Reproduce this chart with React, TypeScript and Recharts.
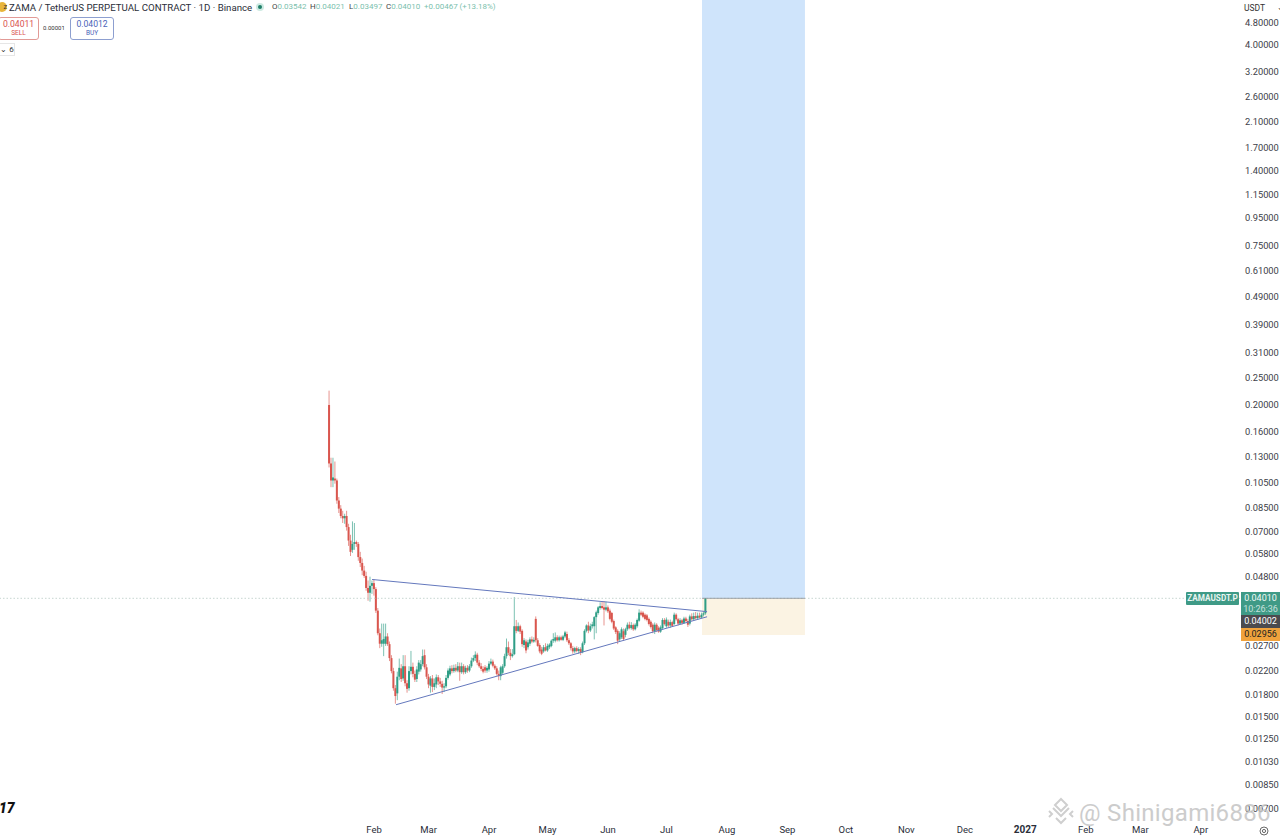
import React from "react";
import { ComposedChart, Bar, XAxis, YAxis, ReferenceArea, ReferenceLine } from "recharts";

const FONT = "Roboto, 'Liberation Sans', sans-serif";

const firstDay = -23; // days relative to 1 Feb 2026
const opens = [
  .2000,.1230,.1068,.1085,.1068,.0904,.0845,.0795,.0780,.0795,.0725,.0648,.0600,.0630,.0640,.0630,.0565,.0538,.0505,.0483,.0437,.0420,.0445,
  .0455,.0433,.0362,.0300,.0275,.0275,.0275,.0292,.0274,.0244,.0219,.0190,.0182,.0209,.0224,.0206,.0228,.0198,.0190,.0219,.0227,.0214,.0205,.0218,
  .0222,.0232,.0250,.0226,.0209,.0194,.0206,.0192,.0196,.0208,.0201,.0197,.0191,.0193,.0207,.0213,.0224,.0219,.0225,.0220,.0228,.0217,.0228,.0217,.0225,.0220,
  .0228,.0239,.0244,.0251,.0235,.0228,.0223,.0226,.0220,.0222,.0233,.0237,.0229,.0224,.0214,.0210,.0216,.0228,.0248,.0267,.0255,.0248,.0252,.0318,.0306,.0318,.0306,
  .0272,.0280,.0267,.0275,.0285,.0280,.0338,.0283,.0272,.0262,.0258,.0267,.0260,.0267,.0270,.0282,.0282,.0290,.0283,.0290,
  .0284,.0292,.0298,.0283,.0276,.0265,.0258,.0265,.0259,.0263,.0256,.0276,.0306,.0320,.0307,.0318,.0318,.0343,.0355,.0370,.0376,.0372,.0365,.0372,.0362,.0355,.0332,.0315,.0306,
  .0285,.0290,.0305,.0296,.0310,.0322,.0313,.0321,.0310,.0318,.0333,.0356,.0356,.0350,.0348,.0338,.0330,.0322,.0305,.0322,.0314,.0304,.0313,.0335,.0318,.0330,.0320,.0329,.0324,
  .0350,.0337,.0325,.0334,.0327,.0339,.0332,.0325,.0345,.0337,.0346,.0340,.0347,.0342,.0350,.03542,
];
const highs = [
  .2253,.1290,.1290,.1250,.1085,.0930,.0870,.0830,.0810,.0830,.0745,.0680,.0760,.0750,.0648,.0640,.0590,.0558,.0525,.0500,.0465,.0480,.0465,
  .0470,.0440,.0370,.0312,.0325,.0325,.0325,.0300,.0280,.0250,.0225,.0195,.0218,.0243,.0232,.0250,.0250,.0203,.0228,.0259,.0235,.0220,.0228,.0240,
  .0240,.0262,.0262,.0232,.0214,.0210,.0212,.0206,.0213,.0212,.0207,.0202,.0198,.0212,.0224,.0229,.0230,.0231,.0232,.0236,.0235,.0235,.0232,.0229,.0230,.0232,
  .0245,.0250,.0258,.0255,.0240,.0234,.0228,.0230,.0228,.0238,.0243,.0241,.0232,.0228,.0220,.0229,.0232,.0253,.0287,.0280,.0263,.0263,.0405,.0335,.0328,.0322,.0310,
  .0288,.0285,.0284,.0290,.0292,.0290,.0345,.0288,.0276,.0268,.0272,.0276,.0275,.0276,.0285,.0300,.0302,.0295,.0294,.0294,
  .0296,.0306,.0304,.0288,.0279,.0270,.0268,.0269,.0267,.0267,.0280,.0310,.0323,.0330,.0325,.0330,.0346,.0362,.0376,.0388,.0392,.0392,.0390,.0378,.0368,.0358,.0336,.0318,.0310,
  .0305,.0315,.0312,.0314,.0328,.0330,.0329,.0325,.0326,.0339,.0366,.0362,.0360,.0354,.0352,.0342,.0334,.0326,.0328,.0326,.0318,.0320,.0340,.0340,.0342,.0336,.0336,.0333,.0356,
  .0354,.0341,.0340,.0338,.0344,.0344,.0338,.0350,.0354,.0356,.0358,.0356,.0356,.0356,.0360,.04021,
];
const lows = [
  .1190,.1010,.1010,.1040,.0880,.0815,.0780,.0750,.0745,.0704,.0620,.0570,.0585,.0600,.0615,.0548,.0520,.0486,.0475,.0427,.0393,.0390,.0416,
  .0410,.0355,.0295,.0265,.0268,.0248,.0270,.0270,.0238,.0215,.0186,.0167,.0172,.0203,.0200,.0202,.0193,.0183,.0186,.0213,.0208,.0200,.0200,.0213,
  .0218,.0228,.0222,.0205,.0190,.0183,.0184,.0187,.0190,.0195,.0192,.0181,.0184,.0190,.0204,.0210,.0215,.0216,.0217,.0217,.0202,.0214,.0213,.0214,.0216,.0217,
  .0225,.0236,.0238,.0230,.0225,.0219,.0215,.0216,.0216,.0218,.0230,.0226,.0221,.0211,.0203,.0203,.0213,.0225,.0243,.0250,.0240,.0245,.0250,.0300,.0303,.0298,.0268,
  .0265,.0254,.0262,.0270,.0276,.0277,.0278,.0268,.0254,.0250,.0255,.0258,.0257,.0263,.0267,.0277,.0278,.0280,.0280,.0282,
  .0281,.0288,.0279,.0272,.0260,.0253,.0254,.0256,.0253,.0250,.0254,.0272,.0302,.0300,.0303,.0312,.0285,.0300,.0350,.0365,.0366,.0320,.0360,.0355,.0334,.0326,.0308,.0298,.0274,
  .0280,.0286,.0282,.0290,.0306,.0310,.0309,.0306,.0307,.0314,.0330,.0346,.0340,.0334,.0331,.0320,.0312,.0300,.0298,.0303,.0301,.0301,.0309,.0320,.0314,.0316,.0314,.0316,.0321,
  .0333,.0320,.0322,.0322,.0324,.0328,.0316,.0320,.0333,.0334,.0336,.0337,.0340,.0340,.0345,.03497,
];
const closes = [
  .1230,.1068,.1095,.1068,.0904,.0845,.0795,.0780,.0795,.0725,.0648,.0590,.0630,.0640,.0630,.0565,.0538,.0505,.0483,.0437,.0420,.0445,.0455,
  .0433,.0362,.0300,.0275,.0283,.0286,.0292,.0274,.0244,.0219,.0190,.0178,.0209,.0225,.0205,.0228,.0198,.0189,.0219,.0227,.0214,.0204,.0222,.0235,
  .0232,.0248,.0226,.0209,.0196,.0206,.0192,.0198,.0208,.0201,.0197,.0191,.0193,.0207,.0220,.0224,.0219,.0225,.0220,.0228,.0217,.0228,.0217,.0225,.0220,.0228,
  .0239,.0244,.0251,.0235,.0228,.0223,.0218,.0220,.0225,.0233,.0237,.0229,.0224,.0214,.0210,.0226,.0228,.0248,.0267,.0255,.0248,.0252,.0318,.0306,.0318,.0304,.0274,
  .0283,.0260,.0278,.0285,.0280,.0284,.0283,.0270,.0258,.0253,.0267,.0260,.0270,.0273,.0282,.0286,.0290,.0283,.0290,.0284,
  .0292,.0302,.0283,.0276,.0265,.0258,.0265,.0259,.0263,.0255,.0276,.0306,.0320,.0307,.0318,.0323,.0343,.0357,.0372,.0376,.0370,.0365,.0372,.0360,.0338,.0330,.0312,.0303,.0282,
  .0300,.0310,.0286,.0310,.0322,.0313,.0321,.0310,.0322,.0335,.0356,.0350,.0344,.0338,.0335,.0324,.0316,.0305,.0322,.0308,.0304,.0315,.0335,.0324,.0336,.0320,.0329,.0319,.0350,
  .0337,.0325,.0334,.0327,.0339,.0332,.0322,.0345,.0337,.0346,.0340,.0347,.0342,.0350,.0354,.04010,
];

const monthTicks = [0, 28, 59, 89, 120, 150, 181, 212, 242, 273, 303, 334, 365, 393, 424];
const monthLabels = ["Feb","Mar","Apr","May","Jun","Jul","Aug","Sep","Oct","Nov","Dec","2027","Feb","Mar","Apr"];
const priceTicks = [4.8,4,3.2,2.6,2.1,1.7,1.4,1.15,0.95,0.75,0.61,0.49,0.39,0.31,0.25,0.2,0.16,0.13,0.105,0.085,0.07,0.058,0.048,0.027,0.022,0.018,0.015,0.0125,0.0103,0.0085,0.007];
const priceDomain = [0.006196, 5.793];
const dayDomain = [-191.8, 444.1];

const lastPrice = 0.0401;
const stopPrice = 0.02956;
const positionDays = [168.2, 221];
const upperTrend = [{ x: -1, y: 0.0469 }, { x: 170.8, y: 0.0359 }];
const lowerTrend = [{ x: 11.3, y: 0.01656 }, { x: 170.8, y: 0.0344 }];

const candles = opens.map((open, i) => ({
  day: firstDay + i,
  open,
  high: highs[i],
  low: lows[i],
  close: closes[i],
  range: [lows[i], highs[i]],
}));

const UP = "#2f9e86";
const DOWN = "#d9564e";

function Candle(props: any) {
  const { x, y, width, height, payload } = props;
  const { open, close, high, low } = payload;
  const up = close >= open;
  const color = up ? UP : DOWN;
  const span = Math.log(high / low);
  const py = (v: number) => y + (height * Math.log(high / v)) / span;
  const top = py(Math.max(open, close));
  const bottom = py(Math.min(open, close));
  const cx = x + width / 2;
  return (
    <g>
      <line x1={cx} x2={cx} y1={y} y2={y + height} stroke={color} strokeWidth={0.8} strokeOpacity={0.8} />
      <rect x={cx - 1} y={top} width={2} height={Math.max(bottom - top, 1)} fill={color} />
    </g>
  );
}

function MonthTick(props: any) {
  const { x, y, payload } = props;
  const label = monthLabels[monthTicks.indexOf(payload.value)];
  const isYear = label === "2027";
  return (
    <text x={x} y={y} textAnchor="middle" dominantBaseline="central" fontFamily={FONT} fontSize={isYear ? 10 : 9.5} fontWeight={isYear ? 700 : 400} fill="#2a2e39">
      {label}
    </text>
  );
}

const abs = (left: number, top: number, extra: React.CSSProperties = {}): React.CSSProperties => ({
  position: "absolute",
  left,
  top,
  fontFamily: FONT,
  whiteSpace: "nowrap",
  lineHeight: 1,
  ...extra,
});

const G = "#7cbfae";
function Ohlc({ k, v, left }: { k: string; v: string; left: number }) {
  return (
    <span style={abs(left, 3, { fontSize: 8, color: G })}>
      <span style={{ color: "#444" }}>{k}</span>
      {v}
    </span>
  );
}

function Tag({ top, h, bg, color, children }: any) {
  return (
    <div style={abs(1241, top, { width: 39, height: h, background: bg, color, fontSize: 9, textAlign: "center", lineHeight: `${h}px`, overflow: "hidden" })}>
      {children}
    </div>
  );
}

export default function App() {
  return (
    <div style={{ position: "absolute", left: 0, top: 0, width: 1280, height: 837, overflow: "hidden", background: "#fff" }}>
      <ComposedChart width={1280} height={837} data={candles} margin={{ top: 0, right: 0, bottom: 0, left: 0 }}>
        <XAxis
          dataKey="day"
          type="number"
          domain={dayDomain}
          allowDataOverflow
          ticks={monthTicks}
          interval={0}
          height={14}
          axisLine={false}
          tickLine={false}
          tickMargin={0}
          tick={<MonthTick />}
        />
        <YAxis
          orientation="right"
          scale="log"
          type="number"
          domain={priceDomain}
          allowDataOverflow
          ticks={priceTicks}
          interval={0}
          width={40}
          axisLine={false}
          tickLine={false}
          tickSize={0}
          tickMargin={5}
          tick={{ fontSize: 9.3, fill: "#3c4048", fontFamily: FONT }}
          tickFormatter={(v: number) => v.toFixed(5)}
        />
        <ReferenceArea x1={positionDays[0]} x2={positionDays[1]} y1={lastPrice} y2={priceDomain[1]} fill="#cfe4fb" fillOpacity={1} stroke="none" ifOverflow="hidden" />
        <ReferenceArea x1={positionDays[0]} x2={positionDays[1]} y1={stopPrice} y2={lastPrice} fill="#fbf3e3" fillOpacity={1} stroke="none" ifOverflow="hidden" />
        <ReferenceLine y={lastPrice} stroke="#b9cbc6" strokeWidth={0.8} strokeDasharray="1.5 2" />
        <ReferenceLine segment={[{ x: positionDays[0], y: lastPrice }, { x: positionDays[1], y: lastPrice }]} stroke="#8a8f98" strokeWidth={0.8} />
        <ReferenceLine segment={upperTrend} stroke="#6478bd" strokeWidth={1} />
        <ReferenceLine segment={lowerTrend} stroke="#6478bd" strokeWidth={1} />
        <Bar dataKey="range" barSize={2} isAnimationActive={false} shape={<Candle />} />
      </ComposedChart>

      {/* legend header */}
      <div style={abs(-3, 2, { width: 10, height: 10, borderRadius: 5, background: "#e8b53a", fontSize: 6, color: "#333", textAlign: "right", lineHeight: "10px" })}>Z</div>
      <div style={abs(9, 2.5, { fontSize: 9.7, color: "#2a2e39" })}>ZAMA / TetherUS PERPETUAL CONTRACT · 1D · Binance</div>
      <div style={abs(256, 3, { width: 8, height: 8, borderRadius: 4, background: "#cdeae2" })} />
      <div style={abs(258, 5, { width: 4, height: 4, borderRadius: 2, background: "#1f7f68" })} />
      <Ohlc k="O" v="0.03542" left={272} />
      <Ohlc k="H" v="0.04021" left={310} />
      <Ohlc k="L" v="0.03497" left={349} />
      <Ohlc k="C" v="0.04010" left={386} />
      <span style={abs(424, 3, { fontSize: 8, color: G })}>+0.00467 (+13.18%)</span>

      <div style={abs(-2, 17, { width: 39, height: 20, border: "1px solid #e29a96", borderRadius: 3, textAlign: "center", color: "#d9534f", fontSize: 8.6, lineHeight: "10px", paddingTop: 1, background: "#fff" })}>
        0.04011
        <div style={{ fontSize: 6.5, lineHeight: "8px" }}>SELL</div>
      </div>
      <div style={abs(43, 25, { fontSize: 6, color: "#333" })}>0.00001</div>
      <div style={abs(70, 17, { width: 42, height: 20, border: "1px solid #8d9fd0", borderRadius: 3, textAlign: "center", color: "#4a63b8", fontSize: 8.6, lineHeight: "10px", paddingTop: 1, background: "#fff" })}>
        0.04012
        <div style={{ fontSize: 6.5, lineHeight: "8px" }}>BUY</div>
      </div>
      <div style={abs(-1, 43, { width: 14, height: 11, border: "1px solid #e6e6e6", fontSize: 8, color: "#333", textAlign: "center", lineHeight: "11px" })}>⌄ 6</div>

      {/* top right unit */}
      <div style={abs(1244, 4, { fontSize: 8.5, color: "#333" })}>USDT</div>
      <div style={abs(1277, 4, { fontSize: 8, color: "#333" })}>⌄</div>

      {/* price tags */}
      <div style={abs(1186, 592, { width: 53, height: 13, background: "#3f9a86", color: "#eaf5f2", fontSize: 8.2, fontWeight: 700, textAlign: "center", lineHeight: "13px", borderRadius: 1 })}>ZAMAUSDT.P</div>
      <Tag top={592} h={23} bg="#3f9a86" color="#f2faf8">
        <div style={{ lineHeight: "12px" }}>0.04010</div>
        <div style={{ lineHeight: "10px", opacity: 0.75 }}>10:26:36</div>
      </Tag>
      <Tag top={615} h={13} bg="#4b4b4f" color="#fff">0.04002</Tag>
      <Tag top={628} h={13} bg="#f0a23c" color="#222">0.02956</Tag>

      {/* cut-off logo */}
      <div style={abs(-1, 801, { fontSize: 14, fontWeight: 900, fontStyle: "italic", color: "#111" })}>17</div>

      {/* settings icon */}
      <svg style={{ position: "absolute", left: 1259, top: 826 }} width={10} height={10}>
        <circle cx={5} cy={5} r={4} fill="none" stroke="#444" strokeWidth={0.8} />
        <circle cx={5} cy={5} r={1.6} fill="none" stroke="#444" strokeWidth={0.8} />
      </svg>

      {/* watermark */}
      <svg style={{ position: "absolute", left: 1046, top: 796 }} width={30} height={30}>
        <g fill="none" stroke="#cfcfcf" strokeWidth={2}>
          <path d="M15 3 L21 9 L15 15 L9 9 Z" />
          <path d="M7 12 L12 17 L15 20 L18 17 L23 12" />
          <path d="M3 15 L6 18 L3 21" />
          <path d="M27 15 L24 18 L27 21" />
          <path d="M10 22 L15 27 L20 22" />
        </g>
      </svg>
      <div style={abs(1079, 801, { fontSize: 24, color: "#c4c4c4", opacity: 0.85, letterSpacing: 0.3 })}>@ Shinigami6886</div>
    </div>
  );
}
